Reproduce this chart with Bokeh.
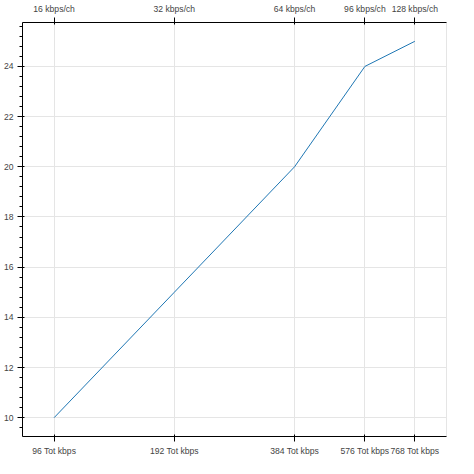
from bokeh.plotting import figure
from bokeh.models import LogAxis, FixedTicker, Range1d
from bokeh.embed import file_html
from bokeh.resources import INLINE

tot_kbps = [96, 192, 384, 576, 768]
kbps_per_ch = [16, 32, 64, 96, 128]
values = [10, 15, 20, 24, 25]
bottom_labels = [f"{v} Tot kbps" for v in tot_kbps]
top_labels = [f"{v} kbps/ch" for v in kbps_per_ch]

p = figure(width=458, height=458, x_axis_type="log",
           x_range=Range1d(80, 922),
           output_backend="svg", toolbar_location=None,
           min_border_right=12, min_border_left=2, min_border_top=2, min_border_bottom=2)

p.line(tot_kbps, values, line_color="#1f77b4", line_width=1)

ticker = FixedTicker(ticks=tot_kbps)
p.xaxis.ticker = ticker
p.xgrid.ticker = ticker
p.xaxis.major_label_overrides = {t: lab for t, lab in zip(tot_kbps, bottom_labels)}

top = LogAxis(ticker=FixedTicker(ticks=tot_kbps),
              major_label_overrides={t: lab for t, lab in zip(tot_kbps, top_labels)})
p.add_layout(top, "above")

p.yaxis.ticker.desired_num_ticks = 8

for ax in p.axis:
    ax.major_label_text_font_size = "8.6px"
    ax.major_tick_out = 5
    ax.major_tick_in = 2
    ax.minor_tick_out = 3
    ax.major_label_standoff = 4
for ax in p.xaxis:
    ax.minor_tick_line_color = None

open("out.html", "w").write(file_html(p, INLINE))
